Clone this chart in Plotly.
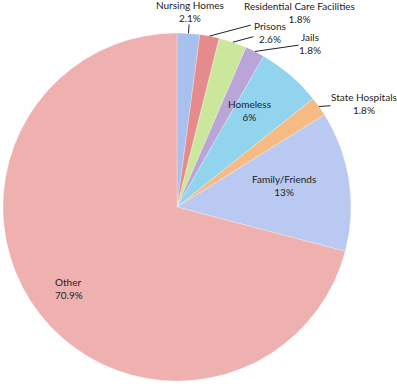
import math
import plotly.graph_objects as go

categories = ["Nursing Homes", "Residential Care Facilities", "Prisons", "Jails",
              "Homeless", "State Hospitals", "Family/Friends", "Other"]
values = [2.1, 1.8, 2.6, 1.8, 6, 1.8, 13, 70.9]
value_labels = ["2.1%", "1.8%", "2.6%", "1.8%", "6%", "1.8%", "13%", "70.9%"]

colors = ["#a9c0ee", "#e58b8b", "#cbe79c", "#b9a5d8", "#92d4ee", "#f6ba84", "#b9c9f1", "#efb1b0"]

W, H = 397, 386
CX, CY, R = 177, 207, 174

fig = go.Figure(go.Pie(
    labels=categories, values=values, sort=False, direction="clockwise", rotation=0,
    marker=dict(colors=colors, line=dict(color="rgba(255,255,255,0.5)", width=0.5)),
    textinfo="none", hoverinfo="label+percent", showlegend=False,
    domain=dict(x=[(CX - R) / W, (CX + R) / W], y=[1 - (CY + R) / H, 1 - (CY - R) / H]),
))

# label placement: (mode, a, b) -> outside: pixel offsets from slice edge; inside: radius factor
placement = {
    "Nursing Homes": ("out", 1.5, -22),
    "Residential Care Facilities": ("out", 90, -24),
    "Prisons": ("out", 37, -10),
    "Jails": ("out", 55, -8),
    "Homeless": ("in", 0.835, 0),
    "State Hospitals": ("out", 45, -3),
    "Family/Friends": ("in", 0.815, 0),
    "Other": ("in", 0.89, 0),
}

total = sum(values)
cum = 0
annotations = []
for cat, v, lab in zip(categories, values, value_labels):
    mid = (cum + v / 2) / total * 2 * math.pi
    cum += v
    mode, a, b = placement[cat]
    text = f"{cat}<br>{lab}"
    if mode == "out":
        px = CX + R * math.sin(mid)
        py = CY - R * math.cos(mid)
        annotations.append(dict(
            x=px / W, y=1 - py / H, xref="paper", yref="paper", text=text,
            showarrow=True, arrowhead=0, arrowwidth=1, arrowcolor="#222",
            ax=a, ay=b, standoff=0, align="center", borderpad=0,
        ))
    else:
        px = CX + a * R * math.sin(mid)
        py = CY - a * R * math.cos(mid)
        annotations.append(dict(
            x=px / W, y=1 - py / H, xref="paper", yref="paper", text=text,
            showarrow=False, align="left" if cat == "Other" else "center", borderpad=0,
        ))

fig.update_layout(
    width=W, height=H, margin=dict(l=0, r=0, t=0, b=0),
    paper_bgcolor="white", plot_bgcolor="white",
    font=dict(family="Lato, Open Sans, sans-serif", size=10, color="#222"),
    annotations=annotations,
)
fig.write_html("out.html", config={"displayModeBar": False},
               post_script="document.body.style.margin='0';")
